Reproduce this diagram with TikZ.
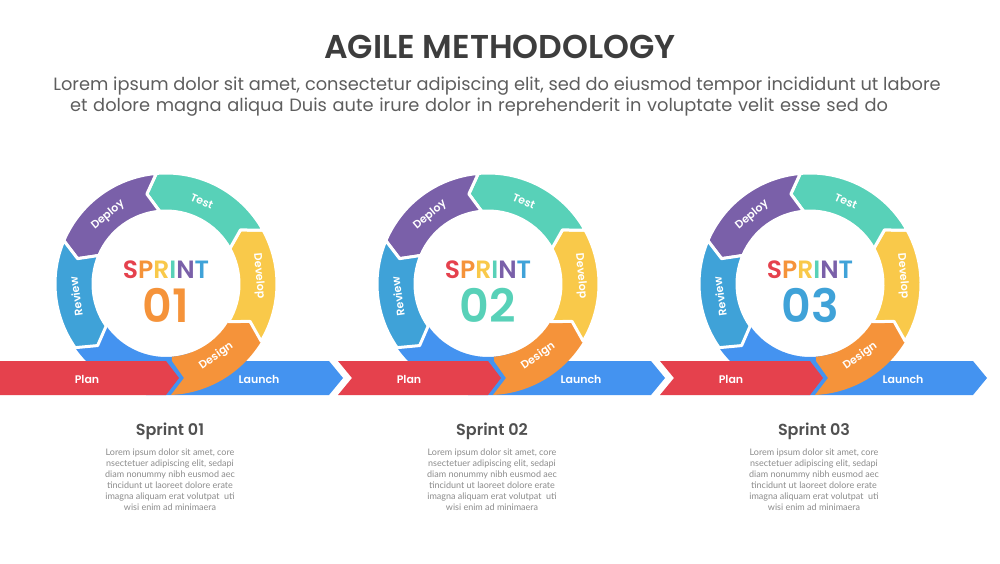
\documentclass[tikz,border=0pt]{standalone}
\usepackage{fontspec}
\setmainfont{Poppins}
\newfontfamily\semib{Poppins SemiBold}
\newfontfamily\lato{Lato}
\definecolor{cred}{HTML}{E5414D}
\definecolor{cblue}{HTML}{4493F0}
\definecolor{corange}{HTML}{F5933A}
\definecolor{cyellow}{HTML}{F9C94A}
\definecolor{cteal}{HTML}{58D1B8}
\definecolor{cpurple}{HTML}{7A60A9}
\definecolor{crev}{HTML}{3FA2D8}
\definecolor{ctitle}{HTML}{3D3D3D}
\definecolor{csub}{HTML}{5E5E5E}
\definecolor{chead}{HTML}{505050}
\definecolor{cpara}{HTML}{8C8C8C}
\tikzset{
  seg/.style={draw=white, line width=3pt, line join=round},
  ringlbl/.style={text=white, inner sep=0pt, font=\semib\fontsize{11}{12}\selectfont},
  bandlbl/.style={text=white, inner sep=0pt, font=\semib\fontsize{11}{12}\selectfont},
  headlbl/.style={text=chead, inner sep=0pt, font=\semib\fontsize{16}{18}\selectfont},
  paralbl/.style={text=cpara, inner sep=0pt, align=center, font=\lato\fontsize{9}{11}\selectfont},
}
\newcommand{\ringseg}[3]{%
  \path[seg, fill=#3] (#1:92) -- ({#1-7}:111) arc[start angle={#1-7}, end angle={#2-7}, radius=111]
    -- (#2:92) -- ({#2-7}:73) arc[start angle={#2-7}, end angle={#1-7}, radius=73] -- cycle;}
\newcommand{\sprintunit}[5]{%
\begin{scope}[shift={(#1,279)}]
  % Launch band
  \fill[cblue] (-20,-77) -- (163,-77) -- (177,-94) -- (163,-111) -- (-20,-111) -- cycle;
  % bottom blue ring piece
  \fill[cblue] (222:92) -- (215:111) arc[start angle=215, end angle=290, radius=111]
    -- (290:73) arc[start angle=290, end angle=215, radius=73] -- cycle;
  % Plan band
  \fill[cred] #5 -- (0,-77) -- (13,-94) -- (0,-111) -- cycle;
  % Design
  \fill[corange] (6,-77) -- (18,-94) -- (-87.4:111.1) arc[start angle=-87.4, end angle=-31, radius=111.1]
    -- (-24:92) -- (-31:73) arc[start angle=-31, end angle=-85.3, radius=73] -- cycle;
  \ringseg{-24}{36}{cyellow}
  \ringseg{36}{102}{cteal}
  \ringseg{102}{164}{cpurple}
  \ringseg{164}{222}{crev}
  % ring labels
  \node[ringlbl, rotate=-23.5] (test#4) at (66.5:90) {Test};
  \node[ringlbl, rotate=40] (deploy#4) at (130:90) {Deploy};
  \node[ringlbl, rotate=98] (review#4) at (188:91) {Review};
  \node[ringlbl, rotate=-85] (develop#4) at (5:93) {Develop};
  \node[ringlbl, rotate=35] (design#4) at (-55.2:88) {Design};
  \node[bandlbl] (plan#4) at (-79,-95) {Plan};
  \node[bandlbl] (launch#4) at (93,-95) {Launch};
  % center
  \node[inner sep=0pt, font=\semib\fontsize{25}{26}\selectfont] (sp#4) at (0,14)
    {\textcolor{cred}{S}\textcolor{corange}{P}\textcolor{cyellow}{R}\textcolor{cteal}{I}\textcolor{cpurple}{N}\textcolor{crev}{T}};
  \node[inner sep=0pt, text=#3, font=\semib\fontsize{46}{48}\selectfont] (num#4) at (0,-21) {#2};
  % caption
  \node[headlbl] (head#4) at (4,-147) {Sprint #2};
  \node[paralbl, anchor=north] (para#4) at (4,-165) {Lorem ipsum dolor sit amet, core\\nsectetuer adipiscing elit, sedapi\\diam nonummy nibh eusmod aec\\tincidunt ut laoreet dolore erate\\imagna aliquam erat volutpat\ \ uti\\wisi enim ad minimaera};
\end{scope}}
\begin{document}
\begin{tikzpicture}[x=1pt, y=1pt]
\useasboundingbox (0,0) rectangle (1000,563);
\fill[white] (0,0) rectangle (1000,563);
\node[inner sep=0pt, text=ctitle, font=\semib\fontsize{33}{35}\selectfont] (title) at (500,516) {AGILE METHODOLOGY};
\node[inner sep=0pt, text=csub, font=\fontsize{17.8}{20}\selectfont] (sub1) at (497,477) {Lorem ipsum dolor sit amet, consectetur adipiscing elit, sed do eiusmod tempor incididunt ut labore};
\node[inner sep=0pt, text=csub, font=\fontsize{17.8}{20}\selectfont] (sub2) at (479,456) {\makebox[818pt][s]{et dolore magna aliqua Duis aute irure dolor in reprehenderit in voluptate velit esse sed do}};
\sprintunit{166}{01}{corange}{a}{(-170,-111) -- (-170,-77)}
\sprintunit{488}{02}{cteal}{b}{(-150,-111) -- (-136,-94) -- (-150,-77)}
\sprintunit{810}{03}{crev}{c}{(-150,-111) -- (-136,-94) -- (-150,-77)}
\end{tikzpicture}
\end{document}
